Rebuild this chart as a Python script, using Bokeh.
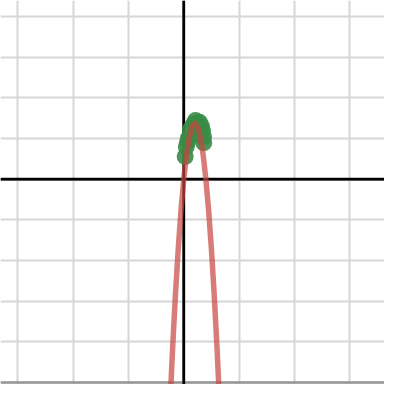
from bokeh.plotting import figure
from bokeh.models import Grid, Span, SingleIntervalTicker, Range1d
from bokeh.embed import file_html
from bokeh.resources import INLINE

# red curve, points
curve_x = [-0.25, -0.2, -0.15, -0.1, -0.05, 0.0, 0.05, 0.1, 0.15, 0.2,
           0.25, 0.3, 0.35, 0.4, 0.45, 0.5, 0.55, 0.6, 0.65]
curve_y = [-5.57, -4.11, -2.82, -1.71, -0.76, 0.01, 0.61, 1.03, 1.29, 1.37,
           1.28, 1.02, 0.59, -0.02, -0.80, -1.75, -2.87, -4.16, -5.63]

# green points
pts_x = [0.025, 0.045, 0.067, 0.085, 0.121, 0.175, 0.211, 0.283, 0.319,
         0.338, 0.356, 0.36]
pts_y = [0.560, 0.799, 0.918, 1.014, 1.230, 1.350, 1.446, 1.398, 1.302,
         1.182, 1.038, 0.894]

p = figure(width=384, height=384, x_axis_type=None, y_axis_type=None,
           x_range=Range1d(-3.309, 3.623), y_range=Range1d(-5.053, 4.396),
           toolbar_location=None, output_backend="svg", min_border=0)
p.outline_line_color = None
p.background_fill_color = "white"

# light grid every unit, darker every 5
for dim in (0, 1):
    p.add_layout(Grid(dimension=dim, ticker=SingleIntervalTicker(interval=1),
                      grid_line_color="#d6d6d6", grid_line_width=2))
for dim in (0, 1):
    p.add_layout(Grid(dimension=dim, ticker=SingleIntervalTicker(interval=5),
                      grid_line_color="#959595", grid_line_width=2.5))

# axes
p.add_layout(Span(location=0, dimension="height", line_color="black",
                  line_width=2.7, level="underlay"))
p.add_layout(Span(location=0, dimension="width", line_color="black",
                  line_width=2.7, level="underlay"))

p.scatter(pts_x, pts_y, size=17, fill_color="#388c46", fill_alpha=0.9,
          line_color=None)
p.line(curve_x, curve_y, line_color="#c74440", line_alpha=0.7, line_width=5.5,
       line_join="round", line_cap="round")

open("out.html", "w").write(file_html(p, INLINE))
